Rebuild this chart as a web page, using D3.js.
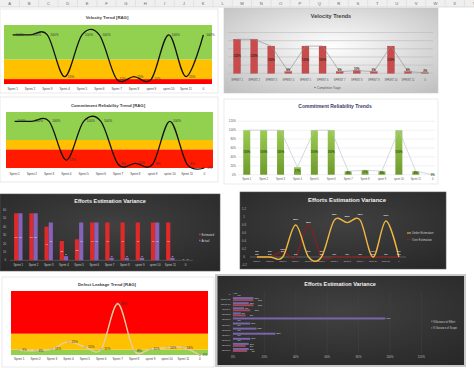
<!DOCTYPE html>
<html><head><meta charset="utf-8">
<script src="https://cdn.jsdelivr.net/npm/d3@7"></script>
<style>body{margin:0;background:#fff;font-family:"Liberation Sans",Arial,sans-serif}svg{display:block}</style>
</head><body><svg id="c" width="474" height="368"></svg>
<script>
// ---------- data ----------
const columns = "ABCDEFGHIJKLMNOPQRSTUVWXY".split("");
const categories = ["Sprint 1","Sprint 2","Sprint 3","Sprint 4","Sprint 5","Sprint 6","Sprint 7","Sprint 8","sprint 9","sprint 10","Sprint 11","0"];
const velocityRag = [1,1,1,0.15,1,1,0.1,0.15,0.1,1,0.15,1];
const velocityPct = [1.25,1.25,1,0.06,1,1,0.06,0.1,0.06,1,0.06,0.02];
const commitmentPct = [1,1,1,0.17,1,1,0.08,0.1,0.08,1,0.08,0];
const estimated = [56,56,40,23,25,45,45,45,45,45,45,0];
const actual = [56,56,45,5,45,45,3,3,3,45,3,0];
const underEstimation = [0,0,0,0.8,0,0,0.92,0.86,0.92,0,0.9,0];
const overEstimation = [0,0,0.13,0,0.8,0,0,0,0,0,0,0];
const defectLeakage = [0.09,0.08,0.11,0.25,0.15,0.11,0.96,0.08,0.11,0.14,0.14,0];
const varianceEffort = [0.1,0.1,0.11,0.27,0.15,0.11,0.97,0.05,0.07,0.1,0.13,0];
const varianceScope = [0.09,0.08,0,0,0,0,0,0.08,0.11,0.13,0.13,0];
const velocityBands = [0,0.1,0.5,1.2];
const commitmentBands = [0,0.4,0.6,1.2];
const defectBands = [0,0.1,0.4,1.2];
const pctTicks = [0,0.2,0.4,0.6,0.8,1,1.2];
const hourTicks = [0,10,20,30,40,50,60];
const varTicks = [-0.2,0,0.2,0.4,0.6,0.8,1,1.2];
const barPctTicks = [0,0.2,0.4,0.6,0.8,1,1.2];
const gridTicks = [0,0.3,0.6,0.9,1.2,1.5];

const svg = d3.select("#c");
const defs = svg.append("defs");
const pct = d3.format(".0%");
const FONT = "Liberation Sans, Arial, sans-serif";

// ---------- header row ----------
svg.append("rect").attr("x",0).attr("y",0).attr("width",474).attr("height",7).attr("fill","#efefef");
svg.append("line").attr("x1",0).attr("x2",474).attr("y1",7).attr("y2",7).attr("stroke","#cfcfcf").attr("stroke-width",0.6);
const colX = d3.scaleLinear().domain([0,1]).range([9.7,29.05]);
columns.forEach((c,i)=>{
  svg.append("line").attr("x1",colX(i)+9.7).attr("x2",colX(i)+9.7).attr("y1",0).attr("y2",7).attr("stroke","#d4d4d4").attr("stroke-width",0.5);
  svg.append("text").attr("x",colX(i)).attr("y",5.2).attr("text-anchor","middle").attr("font-size",4.2).attr("fill","#666").attr("font-family",FONT).text(c);
});

function card(x,y,w,h,fill,stroke){
  return svg.append("rect").attr("x",x).attr("y",y).attr("width",w).attr("height",h).attr("fill",fill).attr("stroke",stroke||"none").attr("stroke-width",0.6);
}
function title(x,y,t,size,color,bold=true){
  svg.append("text").attr("x",x).attr("y",y).attr("text-anchor","middle").attr("font-size",size).attr("font-weight",bold?"bold":"normal").attr("fill",color).attr("font-family",FONT).text(t);
}
function xLabels(x,y,color,size,upper){
  svg.append("g").selectAll("text").data(categories).join("text")
    .attr("x",d=>x(d)).attr("y",y).attr("text-anchor","middle").attr("font-size",size).attr("fill",color).attr("font-family",FONT)
    .text(d=>upper?d.toUpperCase():d);
}

// ---------- RAG line chart ----------
function ragChart(cfg){
  card(cfg.card[0],cfg.card[1],cfg.card[2],cfg.card[3],"#fff","#d9d9d9");
  title(cfg.titleX,cfg.titleY,cfg.title,cfg.titleSize,"#404040");
  const x = d3.scalePoint().domain(categories).range(cfg.xr).padding(0.5);
  const y = d3.scaleLinear().domain([0,1.2]).range(cfg.yr);
  const b = cfg.bands;
  cfg.bandColors.forEach((col,i)=>{
    svg.append("rect").attr("x",cfg.xr[0]).attr("width",cfg.xr[1]-cfg.xr[0])
      .attr("y",y(b[i+1])).attr("height",y(b[i])-y(b[i+1])).attr("fill",col);
  });
  const line = d3.line().x((d,i)=>x(categories[i])).y(d=>y(d)).curve(d3.curveCardinal.tension(0));
  svg.append("path").datum(cfg.values).attr("d",line).attr("fill","none").attr("stroke",cfg.lineColor).attr("stroke-width",cfg.lineWidth);
  if(cfg.markers){
    svg.append("g").selectAll("circle").data(cfg.values).join("circle")
      .attr("cx",(d,i)=>x(categories[i])).attr("cy",d=>y(d)).attr("r",1.1).attr("fill",cfg.markerColor).attr("stroke","#888").attr("stroke-width",0.3);
  }
  svg.append("g").selectAll("text").data(cfg.values).join("text")
    .attr("x",(d,i)=>x(categories[i])+3).attr("y",d=>y(d)+1).attr("font-size",3.2).attr("fill","#333").attr("font-family",FONT)
    .text(d=>pct(d));
  xLabels(x,cfg.labelY,"#404040",3);
}

ragChart({card:[0,9,218,84],title:"Velocity Trend [RAG]",titleX:107,titleY:18.5,titleSize:4.3,
  xr:[4,212],yr:[84,25],bands:velocityBands,bandColors:["#ff0000","#ffc000","#92d050"],
  values:velocityRag,lineColor:"#111",lineWidth:1.3,labelY:89.5});
ragChart({card:[0,97,218,85],title:"Commitment Reliability  Trend [RAG]",titleX:108,titleY:106.5,titleSize:4.3,
  xr:[6,213],yr:[168,112],bands:commitmentBands,bandColors:["#ff1a00","#ffc000","#92d050"],
  values:commitmentPct,lineColor:"#111",lineWidth:1.3,labelY:174.5});
ragChart({card:[2,277,212,90],title:"Defect Leakage Trend [RAG]",titleX:107,titleY:285.5,titleSize:4.3,
  xr:[11,208],yr:[355,291],bands:defectBands,bandColors:["#92d050","#ffc000","#ff0000"],
  values:defectLeakage,lineColor:"#e6cf9f",lineWidth:1.4,markers:true,markerColor:"#ddd0b0",labelY:360});

// ---------- Velocity Trends (panel 2) ----------
{
  const g = defs.append("radialGradient").attr("id","gray").attr("cx","50%").attr("cy","45%").attr("r","75%");
  g.append("stop").attr("offset","0%").attr("stop-color","#ffffff");
  g.append("stop").attr("offset","100%").attr("stop-color","#bdbdbd");
  card(224,8,214,85,"url(#gray)","#c8c8c8");
  title(331,18,"Velocity Trends",5.5,"#404040");
  const x = d3.scalePoint().domain(categories).range([228.5,433.7]).padding(0.5);
  const y = d3.scaleLinear().domain([0,1.5]).range([73.3,32.5]);
  svg.append("g").selectAll("line").data(gridTicks).join("line")
    .attr("x1",228).attr("x2",433).attr("y1",d=>y(d)).attr("y2",d=>y(d)).attr("stroke","#b5b5b5").attr("stroke-width",0.5);
  const bw = 7;
  svg.append("g").selectAll("rect").data(velocityPct).join("rect")
    .attr("x",(d,i)=>x(categories[i])-bw/2).attr("width",bw).attr("y",d=>y(d)).attr("height",d=>y(0)-y(d))
    .attr("fill","#c94c4c").attr("stroke","#a03a3a").attr("stroke-width",0.3);
  svg.append("path").datum(velocityPct).attr("d",d3.line().x((d,i)=>x(categories[i])).y(d=>y(d)))
    .attr("fill","none").attr("stroke","#8c8c8c").attr("stroke-width",0.6);
  svg.append("g").selectAll("text").data(velocityPct).join("text")
    .attr("x",(d,i)=>x(categories[i])).attr("y",d=>d>0.5?(y(d)+y(0))/2+1:y(d)-0.3).attr("text-anchor","middle")
    .attr("font-size",2.8).attr("font-weight","bold").attr("fill","#3a2020").attr("font-family",FONT).text(d=>pct(d));
  xLabels(x,81,"#555",2.6,true);
  svg.append("circle").attr("cx",315).attr("cy",87.5).attr("r",0.8).attr("fill","#777");
  svg.append("text").attr("x",317).attr("y",88.5).attr("font-size",3).attr("fill","#555").attr("font-family",FONT).text("Completion %age");
}

// ---------- Commitment Reliability Trends (panel 4) ----------
{
  const gg = defs.append("linearGradient").attr("id","green").attr("x1",0).attr("x2",0).attr("y1",0).attr("y2",1);
  gg.append("stop").attr("offset","0%").attr("stop-color","#9ccc52");
  gg.append("stop").attr("offset","100%").attr("stop-color","#6f9a2e");
  card(224,99,214,85,"#fff","#dcdcdc");
  title(335,108,"Commitment Reliability Trends",5,"#3d3a6a");
  const x = d3.scalePoint().domain(categories).range([238.3,441.1]).padding(0.5);
  const y = d3.scaleLinear().domain([0,1.2]).range([174.7,121.3]);
  svg.append("g").selectAll("line").data(pctTicks).join("line")
    .attr("x1",238).attr("x2",435).attr("y1",d=>y(d)).attr("y2",d=>y(d)).attr("stroke","#e3e3e3").attr("stroke-width",0.5);
  svg.append("g").selectAll("text").data(pctTicks).join("text")
    .attr("x",236).attr("y",d=>y(d)+1).attr("text-anchor","end").attr("font-size",2.8).attr("fill","#555").attr("font-family",FONT).text(d=>pct(d));
  const bw = 7;
  svg.append("g").selectAll("rect").data(commitmentPct).join("rect")
    .attr("x",(d,i)=>x(categories[i])-bw/2).attr("width",bw).attr("y",d=>y(d)).attr("height",d=>y(0)-y(d)).attr("fill","url(#green)");
  svg.append("path").datum(commitmentPct).attr("d",d3.line().x((d,i)=>x(categories[i])).y(d=>y(d)))
    .attr("fill","none").attr("stroke","#b4bfd4").attr("stroke-width",0.6);
  svg.append("g").selectAll("text").data(commitmentPct).join("text")
    .attr("x",(d,i)=>x(categories[i])).attr("y",d=>(y(d)+y(0))/2+1).attr("text-anchor","middle")
    .attr("font-size",2.8).attr("font-weight","bold").attr("fill","#2f4a10").attr("font-family",FONT).text(d=>pct(d));
  xLabels(x,179.5,"#555",2.6);
}

// ---------- Efforts Estimation Variance (panel 5 bars) ----------
{
  const dg = defs.append("radialGradient").attr("id","dark").attr("cx","50%").attr("cy","40%").attr("r","80%");
  dg.append("stop").attr("offset","0%").attr("stop-color","#414141");
  dg.append("stop").attr("offset","100%").attr("stop-color","#262626");
  card(0,194,220,77,"url(#dark)","#555");
  title(110,203,"Efforts Estimation Variance",5.5,"#f2f2f2");
  const x = d3.scaleBand().domain(categories).range([10.7,193.1]);
  const y = d3.scaleLinear().domain([0,60]).range([260.3,209.9]);
  svg.append("g").selectAll("text").data(hourTicks).join("text")
    .attr("x",6).attr("y",d=>y(d)+1).attr("text-anchor","end").attr("font-size",2.8).attr("fill","#bbb").attr("font-family",FONT).text(d=>d);
  svg.append("line").attr("x1",10).attr("x2",193).attr("y1",y(0)).attr("y2",y(0)).attr("stroke","#777").attr("stroke-width",0.5);
  const bw = 4.2;
  const series = [{v:estimated,c:"#e02a2a",o:-bw},{v:actual,c:"#8662b8",o:0}];
  series.forEach(s=>{
    svg.append("g").selectAll("rect").data(s.v).join("rect")
      .attr("x",(d,i)=>x(categories[i])+x.bandwidth()/2+s.o).attr("width",bw)
      .attr("y",d=>y(d)).attr("height",d=>y(0)-y(d)).attr("fill",s.c);
    svg.append("g").selectAll("text").data(s.v).join("text")
      .attr("x",(d,i)=>x(categories[i])+x.bandwidth()/2+s.o+bw/2).attr("y",d=>d>10?(y(d)+y(0))/2+1:y(d)-0.8)
      .attr("text-anchor","middle").attr("font-size",2.4).attr("fill","#eee").attr("font-family",FONT).text(d=>d);
  });
  svg.append("g").selectAll("text").data(categories).join("text")
    .attr("x",d=>x(d)+x.bandwidth()/2).attr("y",265.5).attr("text-anchor","middle").attr("font-size",2.8).attr("fill","#ccc").attr("font-family",FONT).text(d=>d);
  [["Estimated","#e02a2a",235.5],["Actual","#8662b8",241.5]].forEach(([t,c,yy])=>{
    svg.append("rect").attr("x",199).attr("y",yy-1.8).attr("width",1.5).attr("height",1.5).attr("fill",c);
    svg.append("text").attr("x",201.5).attr("y",yy).attr("font-size",2.8).attr("fill","#ddd").attr("font-family",FONT).text(t);
  });
}

// ---------- Efforts Estimation Variance (panel 6 lines) ----------
{
  card(240,192,206,77,"url(#dark)","#555");
  title(347,202,"Efforts Estimation Variance",6,"#f2f2f2");
  const x = d3.scalePoint().domain(categories).range([250.5,405.3]).padding(0.5);
  const y = d3.scaleLinear().domain([-0.2,1.2]).range([265,209]);
  svg.append("g").selectAll("text").data(varTicks).join("text")
    .attr("x",244).attr("y",d=>y(d)+1).attr("text-anchor","middle").attr("font-size",2.8).attr("fill","#bbb").attr("font-family",FONT).text(d=>d3.format("~g")(d));
  svg.append("line").attr("x1",250).attr("x2",406).attr("y1",y(0)).attr("y2",y(0)).attr("stroke","#888").attr("stroke-width",0.5);
  const line = d3.line().x((d,i)=>x(categories[i])).y(d=>y(d)).curve(d3.curveCardinal.tension(0));
  const series = [{v:overEstimation,c:"#7e2222"},{v:underEstimation,c:"#f0b840"}];
  series.forEach(s=>{
    svg.append("path").datum(s.v).attr("d",line).attr("fill","none").attr("stroke",s.c).attr("stroke-width",1.4);
  });
  series.forEach((s,k)=>{
    svg.append("g").selectAll("text").data(s.v).join("text")
      .attr("x",(d,i)=>x(categories[i])).attr("y",d=>y(d)-(k?5.2:1.8)).attr("text-anchor","middle")
      .attr("font-size",2.4).attr("font-weight","bold").attr("fill","#f0f0f0").attr("font-family",FONT).text(d=>pct(d));
  });
  svg.append("g").selectAll("text").data(categories).join("text")
    .attr("x",d=>x(d)).attr("y",261.5).attr("text-anchor","middle").attr("font-size",2.1).attr("fill","#ccc").attr("font-family",FONT).text(d=>d);
  [["Under Estimation","#f0b840",234],["Over Estimation","#7e2222",240.5]].forEach(([t,c,yy])=>{
    svg.append("line").attr("x1",407).attr("x2",411).attr("y1",yy-1).attr("y2",yy-1).attr("stroke",c).attr("stroke-width",1);
    svg.append("text").attr("x",412).attr("y",yy).attr("font-size",2.8).attr("fill","#ccc").attr("font-family",FONT).text(t);
  });
}

// ---------- Efforts Estimation Variance (panel 8 horizontal bars) ----------
{
  card(215,274,251,93,"#c9c9c9","none");
  card(217.5,276,246.5,89,"url(#dark)","none");
  title(340,286,"Efforts Estimation Variance",5.5,"#f2f2f2");
  const x = d3.scaleLinear().domain([0,1.2]).range([233,421.4]);
  const y = d3.scaleBand().domain(categories).range([352.5,291.5]);
  svg.append("g").selectAll("line").data(barPctTicks).join("line")
    .attr("x1",d=>x(d)).attr("x2",d=>x(d)).attr("y1",291).attr("y2",353).attr("stroke","#4a4a4a").attr("stroke-width",0.4);
  svg.append("g").selectAll("text").data(barPctTicks).join("text")
    .attr("x",d=>x(d)).attr("y",358).attr("text-anchor","middle").attr("font-size",2.8).attr("fill","#bbb").attr("font-family",FONT).text(d=>pct(d));
  svg.append("g").selectAll("text").data(categories).join("text")
    .attr("x",230.5).attr("y",d=>y(d)+y.bandwidth()/2+1).attr("text-anchor","end").attr("font-size",2.5).attr("fill","#ccc").attr("font-family",FONT).text(d=>d);
  const bh = 2;
  const series = [{v:varianceEffort,c:"#7866aa",o:-bh},{v:varianceScope,c:"#9e4a5c",o:0}];
  series.forEach((s,k)=>{
    svg.append("g").selectAll("rect").data(s.v).join("rect")
      .attr("x",x(0)).attr("y",(d,i)=>y(categories[i])+y.bandwidth()/2+s.o).attr("height",bh)
      .attr("width",d=>x(d)-x(0)).attr("fill",s.c);
    svg.append("g").selectAll("text").data(s.v).join("text")
      .attr("x",d=>x(d)+1+k*3.5).attr("y",(d,i)=>y(categories[i])+y.bandwidth()/2+s.o+1.7)
      .attr("font-size",2.1).attr("fill","#eee").attr("font-family",FONT).text(d=>pct(d));
  });
  [["%Variance of Effort","#7866aa",322.5],["% Variance of Scope","#9e4a5c",329]].forEach(([t,c,yy])=>{
    svg.append("rect").attr("x",431).attr("y",yy-1.8).attr("width",1.5).attr("height",1.5).attr("fill",c);
    svg.append("text").attr("x",433).attr("y",yy).attr("font-size",2.6).attr("fill","#ccc").attr("font-family",FONT).text(t);
  });
}
</script></body></html>
